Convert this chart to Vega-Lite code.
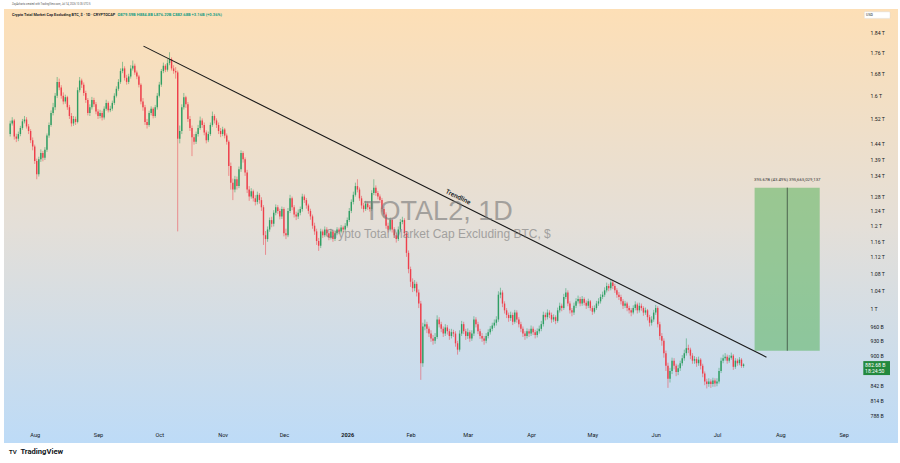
{
  "$schema": "https://vega.github.io/schema/vega-lite/v6.json",
  "width": 894,
  "height": 434,
  "autosize": "none",
  "padding": {"left": 4, "top": 9, "right": 2, "bottom": 20},
  "background": "white",
  "config": {
    "font": "Roboto",
    "view": {
      "stroke": null,
      "fill": {
        "gradient": "linear",
        "x1": 0, "y1": 0, "x2": 0, "y2": 1,
        "stops": [
          {"offset": 0, "color": "#fddfb6"},
          {"offset": 0.5, "color": "#e4dfd8"},
          {"offset": 1, "color": "#bddbf7"}
        ]
      }
    }
  },
  "data": {
    "values": [
      {"t":"2025-07-20","o":1470,"h":1514,"l":1462,"c":1505},
      {"t":"2025-07-21","o":1505,"h":1526,"l":1498,"c":1515},
      {"t":"2025-07-22","o":1515,"h":1520,"l":1452,"c":1462},
      {"t":"2025-07-23","o":1462,"h":1471,"l":1444,"c":1455},
      {"t":"2025-07-24","o":1455,"h":1478,"l":1447,"c":1470},
      {"t":"2025-07-25","o":1470,"h":1497,"l":1463,"c":1490},
      {"t":"2025-07-26","o":1490,"h":1520,"l":1484,"c":1512},
      {"t":"2025-07-27","o":1512,"h":1530,"l":1505,"c":1518},
      {"t":"2025-07-28","o":1518,"h":1526,"l":1488,"c":1495},
      {"t":"2025-07-29","o":1495,"h":1503,"l":1470,"c":1480},
      {"t":"2025-07-30","o":1480,"h":1486,"l":1441,"c":1450},
      {"t":"2025-07-31","o":1450,"h":1459,"l":1418,"c":1430},
      {"t":"2025-08-01","o":1430,"h":1436,"l":1376,"c":1385},
      {"t":"2025-08-02","o":1385,"h":1392,"l":1330,"c":1345},
      {"t":"2025-08-03","o":1345,"h":1398,"l":1338,"c":1390},
      {"t":"2025-08-04","o":1390,"h":1421,"l":1382,"c":1410},
      {"t":"2025-08-05","o":1410,"h":1416,"l":1384,"c":1395},
      {"t":"2025-08-06","o":1395,"h":1428,"l":1388,"c":1420},
      {"t":"2025-08-07","o":1420,"h":1472,"l":1413,"c":1465},
      {"t":"2025-08-08","o":1465,"h":1508,"l":1458,"c":1500},
      {"t":"2025-08-09","o":1500,"h":1549,"l":1494,"c":1540},
      {"t":"2025-08-10","o":1540,"h":1575,"l":1532,"c":1560},
      {"t":"2025-08-11","o":1560,"h":1610,"l":1550,"c":1600},
      {"t":"2025-08-12","o":1600,"h":1668,"l":1592,"c":1650},
      {"t":"2025-08-13","o":1650,"h":1662,"l":1620,"c":1630},
      {"t":"2025-08-14","o":1630,"h":1638,"l":1590,"c":1600},
      {"t":"2025-08-15","o":1600,"h":1612,"l":1570,"c":1580},
      {"t":"2025-08-16","o":1580,"h":1604,"l":1572,"c":1595},
      {"t":"2025-08-17","o":1595,"h":1600,"l":1551,"c":1560},
      {"t":"2025-08-18","o":1560,"h":1568,"l":1520,"c":1530},
      {"t":"2025-08-19","o":1530,"h":1540,"l":1495,"c":1505},
      {"t":"2025-08-20","o":1505,"h":1530,"l":1497,"c":1520},
      {"t":"2025-08-21","o":1520,"h":1528,"l":1500,"c":1510},
      {"t":"2025-08-22","o":1510,"h":1630,"l":1505,"c":1620},
      {"t":"2025-08-23","o":1620,"h":1668,"l":1612,"c":1655},
      {"t":"2025-08-24","o":1655,"h":1662,"l":1628,"c":1640},
      {"t":"2025-08-25","o":1640,"h":1648,"l":1600,"c":1610},
      {"t":"2025-08-26","o":1610,"h":1618,"l":1575,"c":1585},
      {"t":"2025-08-27","o":1585,"h":1592,"l":1532,"c":1540},
      {"t":"2025-08-28","o":1540,"h":1570,"l":1530,"c":1560},
      {"t":"2025-08-29","o":1560,"h":1596,"l":1552,"c":1585},
      {"t":"2025-08-30","o":1585,"h":1593,"l":1561,"c":1570},
      {"t":"2025-08-31","o":1570,"h":1578,"l":1536,"c":1545},
      {"t":"2025-09-01","o":1545,"h":1553,"l":1520,"c":1530},
      {"t":"2025-09-02","o":1530,"h":1551,"l":1522,"c":1540},
      {"t":"2025-09-03","o":1540,"h":1548,"l":1515,"c":1525},
      {"t":"2025-09-04","o":1525,"h":1563,"l":1518,"c":1555},
      {"t":"2025-09-05","o":1555,"h":1586,"l":1548,"c":1575},
      {"t":"2025-09-06","o":1575,"h":1580,"l":1542,"c":1550},
      {"t":"2025-09-07","o":1550,"h":1565,"l":1543,"c":1555},
      {"t":"2025-09-08","o":1555,"h":1583,"l":1548,"c":1575},
      {"t":"2025-09-09","o":1575,"h":1609,"l":1568,"c":1600},
      {"t":"2025-09-10","o":1600,"h":1634,"l":1594,"c":1625},
      {"t":"2025-09-11","o":1625,"h":1660,"l":1618,"c":1650},
      {"t":"2025-09-12","o":1650,"h":1700,"l":1643,"c":1690},
      {"t":"2025-09-13","o":1690,"h":1725,"l":1682,"c":1700},
      {"t":"2025-09-14","o":1700,"h":1708,"l":1655,"c":1665},
      {"t":"2025-09-15","o":1665,"h":1676,"l":1640,"c":1650},
      {"t":"2025-09-16","o":1650,"h":1680,"l":1642,"c":1670},
      {"t":"2025-09-17","o":1670,"h":1712,"l":1662,"c":1700},
      {"t":"2025-09-18","o":1700,"h":1730,"l":1692,"c":1710},
      {"t":"2025-09-19","o":1710,"h":1718,"l":1676,"c":1685},
      {"t":"2025-09-20","o":1685,"h":1692,"l":1660,"c":1670},
      {"t":"2025-09-21","o":1670,"h":1676,"l":1630,"c":1640},
      {"t":"2025-09-22","o":1640,"h":1645,"l":1570,"c":1580},
      {"t":"2025-09-23","o":1580,"h":1592,"l":1548,"c":1560},
      {"t":"2025-09-24","o":1560,"h":1568,"l":1500,"c":1510},
      {"t":"2025-09-25","o":1510,"h":1520,"l":1488,"c":1500},
      {"t":"2025-09-26","o":1500,"h":1548,"l":1494,"c":1540},
      {"t":"2025-09-27","o":1540,"h":1563,"l":1532,"c":1555},
      {"t":"2025-09-28","o":1555,"h":1560,"l":1522,"c":1530},
      {"t":"2025-09-29","o":1530,"h":1568,"l":1524,"c":1560},
      {"t":"2025-09-30","o":1560,"h":1610,"l":1552,"c":1600},
      {"t":"2025-10-01","o":1600,"h":1650,"l":1594,"c":1640},
      {"t":"2025-10-02","o":1640,"h":1698,"l":1632,"c":1690},
      {"t":"2025-10-03","o":1690,"h":1722,"l":1682,"c":1710},
      {"t":"2025-10-04","o":1710,"h":1716,"l":1686,"c":1695},
      {"t":"2025-10-05","o":1695,"h":1735,"l":1688,"c":1720},
      {"t":"2025-10-06","o":1720,"h":1762,"l":1712,"c":1735},
      {"t":"2025-10-07","o":1735,"h":1742,"l":1692,"c":1700},
      {"t":"2025-10-08","o":1700,"h":1712,"l":1680,"c":1690},
      {"t":"2025-10-09","o":1690,"h":1705,"l":1662,"c":1685},
      {"t":"2025-10-10","o":1685,"h":1692,"l":1185,"c":1455},
      {"t":"2025-10-11","o":1455,"h":1498,"l":1440,"c":1480},
      {"t":"2025-10-12","o":1480,"h":1570,"l":1470,"c":1560},
      {"t":"2025-10-13","o":1560,"h":1610,"l":1552,"c":1595},
      {"t":"2025-10-14","o":1595,"h":1600,"l":1558,"c":1570},
      {"t":"2025-10-15","o":1570,"h":1578,"l":1510,"c":1520},
      {"t":"2025-10-16","o":1520,"h":1530,"l":1480,"c":1490},
      {"t":"2025-10-17","o":1490,"h":1498,"l":1400,"c":1460},
      {"t":"2025-10-18","o":1460,"h":1470,"l":1436,"c":1445},
      {"t":"2025-10-19","o":1445,"h":1478,"l":1438,"c":1470},
      {"t":"2025-10-20","o":1470,"h":1500,"l":1462,"c":1490},
      {"t":"2025-10-21","o":1490,"h":1528,"l":1484,"c":1515},
      {"t":"2025-10-22","o":1515,"h":1522,"l":1490,"c":1500},
      {"t":"2025-10-23","o":1500,"h":1508,"l":1466,"c":1475},
      {"t":"2025-10-24","o":1475,"h":1482,"l":1440,"c":1450},
      {"t":"2025-10-25","o":1450,"h":1478,"l":1444,"c":1470},
      {"t":"2025-10-26","o":1470,"h":1508,"l":1464,"c":1500},
      {"t":"2025-10-27","o":1500,"h":1545,"l":1494,"c":1530},
      {"t":"2025-10-28","o":1530,"h":1536,"l":1505,"c":1515},
      {"t":"2025-10-29","o":1515,"h":1522,"l":1490,"c":1500},
      {"t":"2025-10-30","o":1500,"h":1508,"l":1470,"c":1480},
      {"t":"2025-10-31","o":1480,"h":1490,"l":1460,"c":1470},
      {"t":"2025-11-01","o":1470,"h":1494,"l":1463,"c":1485},
      {"t":"2025-11-02","o":1485,"h":1490,"l":1456,"c":1465},
      {"t":"2025-11-03","o":1465,"h":1472,"l":1436,"c":1445},
      {"t":"2025-11-04","o":1445,"h":1450,"l":1340,"c":1370},
      {"t":"2025-11-05","o":1370,"h":1380,"l":1300,"c":1320},
      {"t":"2025-11-06","o":1320,"h":1332,"l":1270,"c":1300},
      {"t":"2025-11-07","o":1300,"h":1340,"l":1292,"c":1330},
      {"t":"2025-11-08","o":1330,"h":1338,"l":1300,"c":1310},
      {"t":"2025-11-09","o":1310,"h":1368,"l":1304,"c":1360},
      {"t":"2025-11-10","o":1360,"h":1418,"l":1352,"c":1410},
      {"t":"2025-11-11","o":1410,"h":1415,"l":1380,"c":1390},
      {"t":"2025-11-12","o":1390,"h":1396,"l":1340,"c":1350},
      {"t":"2025-11-13","o":1350,"h":1358,"l":1290,"c":1300},
      {"t":"2025-11-14","o":1300,"h":1310,"l":1268,"c":1280},
      {"t":"2025-11-15","o":1280,"h":1304,"l":1274,"c":1295},
      {"t":"2025-11-16","o":1295,"h":1300,"l":1266,"c":1275},
      {"t":"2025-11-17","o":1275,"h":1284,"l":1255,"c":1265},
      {"t":"2025-11-18","o":1265,"h":1294,"l":1258,"c":1285},
      {"t":"2025-11-19","o":1285,"h":1290,"l":1260,"c":1270},
      {"t":"2025-11-20","o":1270,"h":1278,"l":1240,"c":1250},
      {"t":"2025-11-21","o":1250,"h":1256,"l":1150,"c":1175},
      {"t":"2025-11-22","o":1175,"h":1186,"l":1125,"c":1165},
      {"t":"2025-11-23","o":1165,"h":1198,"l":1158,"c":1190},
      {"t":"2025-11-24","o":1190,"h":1222,"l":1184,"c":1215},
      {"t":"2025-11-25","o":1215,"h":1224,"l":1196,"c":1205},
      {"t":"2025-11-26","o":1205,"h":1242,"l":1198,"c":1235},
      {"t":"2025-11-27","o":1235,"h":1258,"l":1228,"c":1250},
      {"t":"2025-11-28","o":1250,"h":1256,"l":1232,"c":1240},
      {"t":"2025-11-29","o":1240,"h":1246,"l":1217,"c":1225},
      {"t":"2025-11-30","o":1225,"h":1252,"l":1218,"c":1245},
      {"t":"2025-12-01","o":1245,"h":1250,"l":1172,"c":1180},
      {"t":"2025-12-02","o":1180,"h":1192,"l":1165,"c":1175},
      {"t":"2025-12-03","o":1175,"h":1248,"l":1170,"c":1240},
      {"t":"2025-12-04","o":1240,"h":1285,"l":1234,"c":1275},
      {"t":"2025-12-05","o":1275,"h":1280,"l":1242,"c":1250},
      {"t":"2025-12-06","o":1250,"h":1256,"l":1222,"c":1230},
      {"t":"2025-12-07","o":1230,"h":1238,"l":1215,"c":1225},
      {"t":"2025-12-08","o":1225,"h":1244,"l":1218,"c":1235},
      {"t":"2025-12-09","o":1235,"h":1252,"l":1228,"c":1245},
      {"t":"2025-12-10","o":1245,"h":1288,"l":1238,"c":1280},
      {"t":"2025-12-11","o":1280,"h":1286,"l":1262,"c":1270},
      {"t":"2025-12-12","o":1270,"h":1276,"l":1246,"c":1255},
      {"t":"2025-12-13","o":1255,"h":1260,"l":1232,"c":1240},
      {"t":"2025-12-14","o":1240,"h":1246,"l":1216,"c":1225},
      {"t":"2025-12-15","o":1225,"h":1230,"l":1192,"c":1200},
      {"t":"2025-12-16","o":1200,"h":1208,"l":1176,"c":1185},
      {"t":"2025-12-17","o":1185,"h":1192,"l":1150,"c":1160},
      {"t":"2025-12-18","o":1160,"h":1168,"l":1135,"c":1148},
      {"t":"2025-12-19","o":1148,"h":1192,"l":1142,"c":1185},
      {"t":"2025-12-20","o":1185,"h":1190,"l":1168,"c":1175},
      {"t":"2025-12-21","o":1175,"h":1198,"l":1170,"c":1190},
      {"t":"2025-12-22","o":1190,"h":1196,"l":1172,"c":1180},
      {"t":"2025-12-23","o":1180,"h":1186,"l":1162,"c":1170},
      {"t":"2025-12-24","o":1170,"h":1192,"l":1164,"c":1185},
      {"t":"2025-12-25","o":1185,"h":1190,"l":1158,"c":1165},
      {"t":"2025-12-26","o":1165,"h":1188,"l":1160,"c":1180},
      {"t":"2025-12-27","o":1180,"h":1196,"l":1175,"c":1190},
      {"t":"2025-12-28","o":1190,"h":1195,"l":1178,"c":1185},
      {"t":"2025-12-29","o":1185,"h":1202,"l":1180,"c":1195},
      {"t":"2025-12-30","o":1195,"h":1200,"l":1183,"c":1190},
      {"t":"2025-12-31","o":1190,"h":1207,"l":1185,"c":1200},
      {"t":"2026-01-01","o":1200,"h":1222,"l":1195,"c":1215},
      {"t":"2026-01-02","o":1215,"h":1248,"l":1210,"c":1240},
      {"t":"2026-01-03","o":1240,"h":1272,"l":1234,"c":1265},
      {"t":"2026-01-04","o":1265,"h":1294,"l":1258,"c":1285},
      {"t":"2026-01-05","o":1285,"h":1320,"l":1280,"c":1310},
      {"t":"2026-01-06","o":1310,"h":1330,"l":1292,"c":1300},
      {"t":"2026-01-07","o":1300,"h":1306,"l":1268,"c":1275},
      {"t":"2026-01-08","o":1275,"h":1282,"l":1246,"c":1255},
      {"t":"2026-01-09","o":1255,"h":1262,"l":1236,"c":1245},
      {"t":"2026-01-10","o":1245,"h":1268,"l":1240,"c":1260},
      {"t":"2026-01-11","o":1260,"h":1266,"l":1243,"c":1250},
      {"t":"2026-01-12","o":1250,"h":1256,"l":1238,"c":1245},
      {"t":"2026-01-13","o":1245,"h":1298,"l":1240,"c":1290},
      {"t":"2026-01-14","o":1290,"h":1330,"l":1284,"c":1305},
      {"t":"2026-01-15","o":1305,"h":1312,"l":1282,"c":1290},
      {"t":"2026-01-16","o":1290,"h":1296,"l":1272,"c":1280},
      {"t":"2026-01-17","o":1280,"h":1286,"l":1262,"c":1270},
      {"t":"2026-01-18","o":1270,"h":1276,"l":1238,"c":1245},
      {"t":"2026-01-19","o":1245,"h":1252,"l":1222,"c":1230},
      {"t":"2026-01-20","o":1230,"h":1236,"l":1192,"c":1200},
      {"t":"2026-01-21","o":1200,"h":1208,"l":1182,"c":1190},
      {"t":"2026-01-22","o":1190,"h":1222,"l":1185,"c":1215},
      {"t":"2026-01-23","o":1215,"h":1220,"l":1182,"c":1190},
      {"t":"2026-01-24","o":1190,"h":1196,"l":1168,"c":1175},
      {"t":"2026-01-25","o":1175,"h":1182,"l":1156,"c":1165},
      {"t":"2026-01-26","o":1165,"h":1198,"l":1160,"c":1190},
      {"t":"2026-01-27","o":1190,"h":1218,"l":1184,"c":1210},
      {"t":"2026-01-28","o":1210,"h":1224,"l":1204,"c":1215},
      {"t":"2026-01-29","o":1215,"h":1220,"l":1172,"c":1180},
      {"t":"2026-01-30","o":1180,"h":1186,"l":1120,"c":1130},
      {"t":"2026-01-31","o":1130,"h":1136,"l":1080,"c":1090},
      {"t":"2026-02-01","o":1090,"h":1096,"l":1048,"c":1060},
      {"t":"2026-02-02","o":1060,"h":1068,"l":1036,"c":1045},
      {"t":"2026-02-03","o":1045,"h":1064,"l":1038,"c":1055},
      {"t":"2026-02-04","o":1055,"h":1060,"l":1026,"c":1035},
      {"t":"2026-02-05","o":1035,"h":1042,"l":1000,"c":1010},
      {"t":"2026-02-06","o":1010,"h":1016,"l":853,"c":885},
      {"t":"2026-02-07","o":885,"h":968,"l":878,"c":960},
      {"t":"2026-02-08","o":960,"h":975,"l":952,"c":965},
      {"t":"2026-02-09","o":965,"h":970,"l":946,"c":955},
      {"t":"2026-02-10","o":955,"h":960,"l":938,"c":945},
      {"t":"2026-02-11","o":945,"h":952,"l":928,"c":935},
      {"t":"2026-02-12","o":935,"h":942,"l":922,"c":930},
      {"t":"2026-02-13","o":930,"h":946,"l":924,"c":938},
      {"t":"2026-02-14","o":938,"h":984,"l":934,"c":975},
      {"t":"2026-02-15","o":975,"h":980,"l":958,"c":965},
      {"t":"2026-02-16","o":965,"h":970,"l":948,"c":955},
      {"t":"2026-02-17","o":955,"h":960,"l":938,"c":945},
      {"t":"2026-02-18","o":945,"h":965,"l":940,"c":958},
      {"t":"2026-02-19","o":958,"h":963,"l":943,"c":950},
      {"t":"2026-02-20","o":950,"h":955,"l":932,"c":940},
      {"t":"2026-02-21","o":940,"h":955,"l":935,"c":948},
      {"t":"2026-02-22","o":948,"h":953,"l":938,"c":945},
      {"t":"2026-02-23","o":945,"h":950,"l":918,"c":925},
      {"t":"2026-02-24","o":925,"h":930,"l":902,"c":912},
      {"t":"2026-02-25","o":912,"h":952,"l":908,"c":945},
      {"t":"2026-02-26","o":945,"h":972,"l":940,"c":965},
      {"t":"2026-02-27","o":965,"h":970,"l":944,"c":950},
      {"t":"2026-02-28","o":950,"h":955,"l":932,"c":940},
      {"t":"2026-03-01","o":940,"h":956,"l":934,"c":948},
      {"t":"2026-03-02","o":948,"h":952,"l":928,"c":935},
      {"t":"2026-03-03","o":935,"h":952,"l":930,"c":945},
      {"t":"2026-03-04","o":945,"h":982,"l":940,"c":975},
      {"t":"2026-03-05","o":975,"h":980,"l":958,"c":965},
      {"t":"2026-03-06","o":965,"h":970,"l":944,"c":950},
      {"t":"2026-03-07","o":950,"h":955,"l":934,"c":940},
      {"t":"2026-03-08","o":940,"h":946,"l":928,"c":935},
      {"t":"2026-03-09","o":935,"h":940,"l":922,"c":930},
      {"t":"2026-03-10","o":930,"h":946,"l":925,"c":940},
      {"t":"2026-03-11","o":940,"h":954,"l":935,"c":948},
      {"t":"2026-03-12","o":948,"h":961,"l":943,"c":955},
      {"t":"2026-03-13","o":955,"h":968,"l":950,"c":962},
      {"t":"2026-03-14","o":962,"h":975,"l":957,"c":968},
      {"t":"2026-03-15","o":968,"h":982,"l":962,"c":975},
      {"t":"2026-03-16","o":975,"h":1038,"l":970,"c":1030},
      {"t":"2026-03-17","o":1030,"h":1046,"l":1022,"c":1035},
      {"t":"2026-03-18","o":1035,"h":1040,"l":1002,"c":1010},
      {"t":"2026-03-19","o":1010,"h":1015,"l":988,"c":995},
      {"t":"2026-03-20","o":995,"h":1000,"l":978,"c":985},
      {"t":"2026-03-21","o":985,"h":990,"l":970,"c":978},
      {"t":"2026-03-22","o":978,"h":992,"l":972,"c":985},
      {"t":"2026-03-23","o":985,"h":990,"l":963,"c":970},
      {"t":"2026-03-24","o":970,"h":996,"l":966,"c":990},
      {"t":"2026-03-25","o":990,"h":995,"l":968,"c":975},
      {"t":"2026-03-26","o":975,"h":980,"l":958,"c":965},
      {"t":"2026-03-27","o":965,"h":970,"l":948,"c":955},
      {"t":"2026-03-28","o":955,"h":960,"l":938,"c":945},
      {"t":"2026-03-29","o":945,"h":950,"l":932,"c":940},
      {"t":"2026-03-30","o":940,"h":956,"l":935,"c":950},
      {"t":"2026-03-31","o":950,"h":955,"l":938,"c":945},
      {"t":"2026-04-01","o":945,"h":962,"l":940,"c":955},
      {"t":"2026-04-02","o":955,"h":960,"l":942,"c":948},
      {"t":"2026-04-03","o":948,"h":953,"l":935,"c":942},
      {"t":"2026-04-04","o":942,"h":956,"l":937,"c":950},
      {"t":"2026-04-05","o":950,"h":962,"l":945,"c":955},
      {"t":"2026-04-06","o":955,"h":972,"l":950,"c":965},
      {"t":"2026-04-07","o":965,"h":992,"l":960,"c":985},
      {"t":"2026-04-08","o":985,"h":990,"l":973,"c":980},
      {"t":"2026-04-09","o":980,"h":997,"l":975,"c":990},
      {"t":"2026-04-10","o":990,"h":995,"l":978,"c":985},
      {"t":"2026-04-11","o":985,"h":990,"l":968,"c":975},
      {"t":"2026-04-12","o":975,"h":986,"l":970,"c":980},
      {"t":"2026-04-13","o":980,"h":984,"l":965,"c":972},
      {"t":"2026-04-14","o":972,"h":1001,"l":968,"c":995},
      {"t":"2026-04-15","o":995,"h":1012,"l":990,"c":1005},
      {"t":"2026-04-16","o":1005,"h":1010,"l":993,"c":1000},
      {"t":"2026-04-17","o":1000,"h":1032,"l":996,"c":1025},
      {"t":"2026-04-18","o":1025,"h":1045,"l":1020,"c":1035},
      {"t":"2026-04-19","o":1035,"h":1040,"l":1004,"c":1010},
      {"t":"2026-04-20","o":1010,"h":1015,"l":988,"c":995},
      {"t":"2026-04-21","o":995,"h":1000,"l":982,"c":990},
      {"t":"2026-04-22","o":990,"h":1012,"l":985,"c":1005},
      {"t":"2026-04-23","o":1005,"h":1022,"l":1000,"c":1015},
      {"t":"2026-04-24","o":1015,"h":1028,"l":1010,"c":1020},
      {"t":"2026-04-25","o":1020,"h":1025,"l":1004,"c":1010},
      {"t":"2026-04-26","o":1010,"h":1027,"l":1005,"c":1020},
      {"t":"2026-04-27","o":1020,"h":1024,"l":1006,"c":1012},
      {"t":"2026-04-28","o":1012,"h":1017,"l":998,"c":1005},
      {"t":"2026-04-29","o":1005,"h":1021,"l":1000,"c":1015},
      {"t":"2026-04-30","o":1015,"h":1018,"l":994,"c":1000},
      {"t":"2026-05-01","o":1000,"h":1005,"l":985,"c":992},
      {"t":"2026-05-02","o":992,"h":1006,"l":988,"c":1000},
      {"t":"2026-05-03","o":1000,"h":1016,"l":996,"c":1010},
      {"t":"2026-05-04","o":1010,"h":1022,"l":1005,"c":1015},
      {"t":"2026-05-05","o":1015,"h":1031,"l":1010,"c":1025},
      {"t":"2026-05-06","o":1025,"h":1037,"l":1020,"c":1030},
      {"t":"2026-05-07","o":1030,"h":1047,"l":1025,"c":1040},
      {"t":"2026-05-08","o":1040,"h":1058,"l":1035,"c":1050},
      {"t":"2026-05-09","o":1050,"h":1055,"l":1038,"c":1045},
      {"t":"2026-05-10","o":1045,"h":1064,"l":1040,"c":1058},
      {"t":"2026-05-11","o":1058,"h":1062,"l":1043,"c":1050},
      {"t":"2026-05-12","o":1050,"h":1055,"l":1034,"c":1040},
      {"t":"2026-05-13","o":1040,"h":1045,"l":1023,"c":1030},
      {"t":"2026-05-14","o":1030,"h":1036,"l":1018,"c":1025},
      {"t":"2026-05-15","o":1025,"h":1030,"l":1008,"c":1015},
      {"t":"2026-05-16","o":1015,"h":1020,"l":998,"c":1005},
      {"t":"2026-05-17","o":1005,"h":1016,"l":1000,"c":1010},
      {"t":"2026-05-18","o":1010,"h":1014,"l":993,"c":1000},
      {"t":"2026-05-19","o":1000,"h":1005,"l":988,"c":995},
      {"t":"2026-05-20","o":995,"h":1000,"l":982,"c":990},
      {"t":"2026-05-21","o":990,"h":1006,"l":986,"c":1000},
      {"t":"2026-05-22","o":1000,"h":1015,"l":995,"c":1008},
      {"t":"2026-05-23","o":1008,"h":1012,"l":988,"c":995},
      {"t":"2026-05-24","o":995,"h":1012,"l":990,"c":1005},
      {"t":"2026-05-25","o":1005,"h":1010,"l":994,"c":1000},
      {"t":"2026-05-26","o":1000,"h":1004,"l":983,"c":990},
      {"t":"2026-05-27","o":990,"h":1001,"l":985,"c":995},
      {"t":"2026-05-28","o":995,"h":998,"l":973,"c":980},
      {"t":"2026-05-29","o":980,"h":985,"l":960,"c":968},
      {"t":"2026-05-30","o":968,"h":982,"l":962,"c":975},
      {"t":"2026-05-31","o":975,"h":996,"l":970,"c":990},
      {"t":"2026-06-01","o":990,"h":1007,"l":985,"c":1000},
      {"t":"2026-06-02","o":1000,"h":1004,"l":958,"c":965},
      {"t":"2026-06-03","o":965,"h":970,"l":932,"c":940},
      {"t":"2026-06-04","o":940,"h":946,"l":920,"c":930},
      {"t":"2026-06-05","o":930,"h":935,"l":896,"c":905},
      {"t":"2026-06-06","o":905,"h":910,"l":870,"c":880},
      {"t":"2026-06-07","o":880,"h":886,"l":838,"c":855},
      {"t":"2026-06-08","o":855,"h":876,"l":848,"c":870},
      {"t":"2026-06-09","o":870,"h":896,"l":864,"c":890},
      {"t":"2026-06-10","o":890,"h":895,"l":873,"c":880},
      {"t":"2026-06-11","o":880,"h":884,"l":860,"c":868},
      {"t":"2026-06-12","o":868,"h":882,"l":862,"c":875},
      {"t":"2026-06-13","o":875,"h":890,"l":870,"c":885},
      {"t":"2026-06-14","o":885,"h":901,"l":880,"c":895},
      {"t":"2026-06-15","o":895,"h":912,"l":890,"c":905},
      {"t":"2026-06-16","o":905,"h":935,"l":900,"c":915},
      {"t":"2026-06-17","o":915,"h":922,"l":905,"c":912},
      {"t":"2026-06-18","o":912,"h":916,"l":893,"c":900},
      {"t":"2026-06-19","o":900,"h":905,"l":884,"c":890},
      {"t":"2026-06-20","o":890,"h":899,"l":884,"c":893},
      {"t":"2026-06-21","o":893,"h":897,"l":878,"c":885},
      {"t":"2026-06-22","o":885,"h":898,"l":880,"c":892},
      {"t":"2026-06-23","o":892,"h":895,"l":873,"c":880},
      {"t":"2026-06-24","o":880,"h":884,"l":858,"c":865},
      {"t":"2026-06-25","o":865,"h":869,"l":843,"c":850},
      {"t":"2026-06-26","o":850,"h":855,"l":837,"c":845},
      {"t":"2026-06-27","o":845,"h":856,"l":840,"c":850},
      {"t":"2026-06-28","o":850,"h":854,"l":838,"c":845},
      {"t":"2026-06-29","o":845,"h":857,"l":840,"c":852},
      {"t":"2026-06-30","o":852,"h":856,"l":840,"c":846},
      {"t":"2026-07-01","o":846,"h":856,"l":841,"c":850},
      {"t":"2026-07-02","o":850,"h":876,"l":846,"c":870},
      {"t":"2026-07-03","o":870,"h":896,"l":866,"c":890},
      {"t":"2026-07-04","o":890,"h":902,"l":885,"c":895},
      {"t":"2026-07-05","o":895,"h":905,"l":890,"c":898},
      {"t":"2026-07-06","o":898,"h":902,"l":884,"c":890},
      {"t":"2026-07-07","o":890,"h":901,"l":886,"c":896},
      {"t":"2026-07-08","o":896,"h":906,"l":892,"c":900},
      {"t":"2026-07-09","o":900,"h":903,"l":872,"c":878},
      {"t":"2026-07-10","o":878,"h":895,"l":874,"c":890},
      {"t":"2026-07-11","o":890,"h":894,"l":880,"c":885},
      {"t":"2026-07-12","o":885,"h":897,"l":881,"c":892},
      {"t":"2026-07-13","o":892,"h":895,"l":876,"c":879.59},
      {"t":"2026-07-14","o":879.59,"h":884.8,"l":876.22,"c":882.68}
    ]
  },
  "layer": [
    {
      "mark": {"type": "rule", "strokeWidth": 0.8, "opacity": 0.65},
      "encoding": {
        "x": {
          "field": "t",
          "type": "temporal",
          "scale": {
            "type": "utc",
            "domain": [
              {"year": 2025, "month": 7, "date": 19, "hours": 10, "utc": true},
              {"year": 2026, "month": 9, "date": 25, "hours": 4, "utc": true}
            ]
          },
          "axis": {
            "title": null,
            "grid": false,
            "domain": false,
            "ticks": false,
            "tickSize": 0,
            "offset": -15,
            "labelPadding": 4,
            "labelFontSize": 5.6,
            "labelColor": "#131722",
            "labelOverlap": false,
            "labelFontWeight": {"condition": {"test": "utcmonth(datum.value) == 0", "value": "bold"}, "value": "normal"},
            "labelExpr": "utcmonth(datum.value) == 0 ? utcFormat(datum.value, '%Y') : utcFormat(datum.value, '%b')",
            "values": [
              {"year": 2025, "month": 8, "date": 1, "utc": true},
              {"year": 2025, "month": 9, "date": 1, "utc": true},
              {"year": 2025, "month": 10, "date": 1, "utc": true},
              {"year": 2025, "month": 11, "date": 1, "utc": true},
              {"year": 2025, "month": 12, "date": 1, "utc": true},
              {"year": 2026, "month": 1, "date": 1, "utc": true},
              {"year": 2026, "month": 2, "date": 1, "utc": true},
              {"year": 2026, "month": 3, "date": 1, "utc": true},
              {"year": 2026, "month": 4, "date": 1, "utc": true},
              {"year": 2026, "month": 5, "date": 1, "utc": true},
              {"year": 2026, "month": 6, "date": 1, "utc": true},
              {"year": 2026, "month": 7, "date": 1, "utc": true},
              {"year": 2026, "month": 8, "date": 1, "utc": true},
              {"year": 2026, "month": 9, "date": 1, "utc": true}
            ]
          }
        },
        "y": {
          "field": "l",
          "type": "quantitative",
          "scale": {"type": "log", "domain": [741.7, 1939], "nice": false},
          "axis": {
            "title": null,
            "orient": "right",
            "grid": false,
            "domain": false,
            "ticks": false,
            "tickSize": 0,
            "offset": -43,
            "labelPadding": 15,
            "labelAlign": "left",
            "labelFontSize": 5.2,
            "labelColor": "#131722",
            "labelOverlap": false,
            "values": [788, 814, 842, 900, 930, 960, 1000, 1040, 1080, 1120, 1160, 1200, 1240, 1280, 1340, 1390, 1440, 1520, 1600, 1680, 1760, 1840],
            "labelExpr": "datum.value >= 1000 ? format(datum.value / 1000, '.3~') + ' T' : format(datum.value, 'd') + ' B'"
          }
        },
        "y2": {"field": "h"},
        "color": {"condition": {"test": "datum.c >= datum.o", "value": "#2f9e63"}, "value": "#ee3f4b"}
      }
    },
    {
      "mark": {"type": "bar", "width": 1.4},
      "encoding": {
        "x": {"field": "t", "type": "temporal"},
        "y": {"field": "o", "type": "quantitative"},
        "y2": {"field": "c"},
        "color": {"condition": {"test": "datum.c >= datum.o", "value": "#2f9e63"}, "value": "#ee3f4b"}
      }
    },
    {
      "data": {"values": [{}]},
      "mark": {"type": "rect", "fill": "#4caf50", "opacity": 0.5},
      "encoding": {
        "x": {"datum": {"year": 2026, "month": 7, "date": 19, "hours": 10, "utc": true}},
        "x2": {"datum": {"year": 2026, "month": 8, "date": 20, "hours": 7, "utc": true}},
        "y": {"datum": 909.8},
        "y2": {"datum": 1305.5}
      }
    },
    {
      "data": {"values": [{}]},
      "mark": {"type": "rule", "color": "#3a4a3e", "strokeWidth": 0.8},
      "encoding": {
        "x": {"datum": {"year": 2026, "month": 8, "date": 4, "hours": 10, "utc": true}},
        "y": {"datum": 909.8},
        "y2": {"datum": 1305.5}
      }
    },
    {
      "data": {"values": [{}]},
      "mark": {"type": "text", "fontSize": 4.3, "color": "#333333", "align": "center", "baseline": "middle"},
      "encoding": {
        "x": {"datum": {"year": 2026, "month": 8, "date": 4, "hours": 10, "utc": true}},
        "y": {"datum": 1328},
        "text": {"value": "395.67B (43.49%) 395,665,029,137"}
      }
    },
    {
      "data": {"values": [{}]},
      "mark": {"type": "rule", "color": "#1a1a1a", "strokeWidth": 1.1},
      "encoding": {
        "x": {"datum": {"year": 2025, "month": 9, "date": 23, "hours": 6, "utc": true}},
        "y": {"datum": 1786},
        "x2": {"datum": {"year": 2026, "month": 7, "date": 25, "hours": 5, "utc": true}},
        "y2": {"datum": 897}
      }
    },
    {
      "data": {"values": [{}]},
      "mark": {"type": "text", "fontSize": 6.5, "fontWeight": 500, "color": "#131722", "angle": 26, "align": "center", "baseline": "middle"},
      "encoding": {
        "x": {"datum": {"year": 2026, "month": 2, "date": 24, "hours": 5, "utc": true}},
        "y": {"datum": 1279},
        "text": {"value": "Trendline"}
      }
    },
    {
      "data": {"values": [{}]},
      "mark": {"type": "text", "font": "Liberation Sans", "fontSize": 27, "color": "#777777", "opacity": 0.6, "align": "center", "baseline": "alphabetic"},
      "encoding": {
        "x": {"datum": {"year": 2026, "month": 2, "date": 14, "hours": 12, "utc": true}},
        "y": {"datum": 1215},
        "text": {"value": "TOTAL2, 1D"}
      }
    },
    {
      "data": {"values": [{}]},
      "mark": {"type": "text", "font": "Liberation Sans", "fontSize": 12, "color": "#777777", "opacity": 0.6, "align": "center", "baseline": "alphabetic"},
      "encoding": {
        "x": {"datum": {"year": 2026, "month": 2, "date": 14, "hours": 12, "utc": true}},
        "y": {"datum": 1168},
        "text": {"value": "Crypto Total Market Cap Excluding BTC, $"}
      }
    },
    {
      "data": {"values": [{}]},
      "mark": {"type": "text", "fontSize": 2.6, "color": "#555555", "align": "left", "baseline": "middle"},
      "encoding": {
        "x": {"datum": {"year": 2025, "month": 7, "date": 20, "hours": 21, "utc": true}},
        "y": {"datum": 1958},
        "text": {"value": "ZayAcharts created with TradingView.com, Jul 14, 2026 10:35 UTC-5"}
      }
    },
    {
      "data": {"values": [{}]},
      "mark": {"type": "text", "fontSize": 3.8, "fontWeight": 600, "color": "#131722", "align": "left", "baseline": "middle"},
      "encoding": {
        "x": {"datum": {"year": 2025, "month": 7, "date": 20, "hours": 21, "utc": true}},
        "y": {"datum": 1913},
        "text": {"value": "Crypto Total Market Cap Excluding BTC, $ · 1D · CRYPTOCAP"}
      }
    },
    {
      "data": {"values": [{}]},
      "mark": {"type": "text", "fontSize": 4.1, "fontWeight": 600, "color": "#089981", "align": "left", "baseline": "middle"},
      "encoding": {
        "x": {"datum": {"year": 2025, "month": 9, "date": 10, "hours": 12, "utc": true}},
        "y": {"datum": 1913},
        "text": {"value": "O879.59B H884.8B L876.22B C882.68B +3.16B (+0.36%)"}
      }
    },
    {
      "data": {"values": [{}]},
      "mark": {"type": "rect", "fill": "white", "stroke": "#d6d6d6", "strokeWidth": 0.4, "cornerRadius": 1},
      "encoding": {
        "x": {"datum": {"year": 2026, "month": 9, "date": 11, "hours": 3, "utc": true}},
        "x2": {"datum": {"year": 2026, "month": 9, "date": 23, "hours": 17, "utc": true}},
        "y": {"datum": 1899},
        "y2": {"datum": 1927}
      }
    },
    {
      "data": {"values": [{}]},
      "mark": {"type": "text", "fontSize": 3.6, "color": "#131722", "align": "left", "baseline": "middle"},
      "encoding": {
        "x": {"datum": {"year": 2026, "month": 9, "date": 12, "hours": 0, "utc": true}},
        "y": {"datum": 1913},
        "text": {"value": "USD"}
      }
    },
    {
      "data": {"values": [{}]},
      "mark": {"type": "rect", "fill": "#23893e"},
      "encoding": {
        "x": {"datum": {"year": 2026, "month": 9, "date": 10, "hours": 15, "utc": true}},
        "x2": {"datum": {"year": 2026, "month": 9, "date": 23, "hours": 17, "utc": true}},
        "y": {"datum": 862.1},
        "y2": {"datum": 889.2}
      }
    },
    {
      "data": {"values": [{}]},
      "mark": {"type": "text", "fontSize": 5.2, "color": "white", "align": "left", "baseline": "middle"},
      "encoding": {
        "x": {"datum": {"year": 2026, "month": 9, "date": 11, "hours": 12, "utc": true}},
        "y": {"datum": 881.4},
        "text": {"value": "882.68 B"}
      }
    },
    {
      "data": {"values": [{}]},
      "mark": {"type": "text", "fontSize": 5, "color": "white", "align": "left", "baseline": "middle"},
      "encoding": {
        "x": {"datum": {"year": 2026, "month": 9, "date": 11, "hours": 12, "utc": true}},
        "y": {"datum": 869.8},
        "text": {"value": "18:24:50"}
      }
    },
    {
      "data": {"values": [{}]},
      "mark": {"type": "text", "font": "Liberation Sans", "fontSize": 6, "fontWeight": "bold", "color": "#131722", "align": "left", "baseline": "middle"},
      "encoding": {
        "x": {"datum": {"year": 2025, "month": 7, "date": 19, "hours": 10, "utc": true}},
        "y": {"datum": 727},
        "text": {"value": "TV"}
      }
    },
    {
      "data": {"values": [{}]},
      "mark": {"type": "text", "fontSize": 7.6, "fontWeight": "bold", "color": "#131722", "align": "left", "baseline": "middle"},
      "encoding": {
        "x": {"datum": {"year": 2025, "month": 7, "date": 25, "hours": 0, "utc": true}},
        "y": {"datum": 727},
        "text": {"value": "TradingView"}
      }
    }
  ]
}
